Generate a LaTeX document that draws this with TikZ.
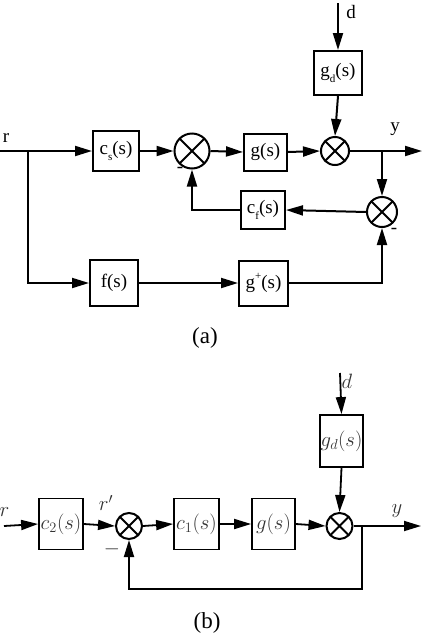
\documentclass[tikz,border=0pt]{standalone}
\usepackage{fontspec}
\setmainfont{Liberation Serif}
\usetikzlibrary{arrows.meta,calc}
\begin{document}
\begin{tikzpicture}[x=1pt,y=-1pt,
  ablk/.style={draw,line width=2pt,inner sep=0pt,font=\fontsize{19}{22}\selectfont},
  bblk/.style={draw,line width=1.8pt,inner sep=0pt,font=\fontsize{19.5}{22}\selectfont,text=black!80},
  sumnode/.style={draw,circle,line width=2pt,inner sep=0pt,minimum size=#1,
    path picture={\draw[line width=2pt] (path picture bounding box.north west)--(path picture bounding box.south east) (path picture bounding box.north east)--(path picture bounding box.south west);}},
  ar/.style={-{Triangle[length=17pt,width=10pt]},line width=2pt},
  br/.style={-{Triangle[length=17pt,width=10pt]},line width=1.8pt},
  lbl/.style={font=\fontsize{19}{22}\selectfont,inner sep=0pt},
  mlbl/.style={font=\fontsize{19.5}{22}\selectfont,inner sep=0pt,text=black!80},
  captionlbl/.style={font=\fontsize{23}{26}\selectfont,inner sep=0pt}
]
\useasboundingbox (0,0) rectangle (424,638);

% ---------------- (a) ----------------
\node[ablk,minimum width=46pt,minimum height=40pt] (cs) at (116,151) {c\raisebox{-0.35em}{\fontsize{11}{11}\selectfont s}(s)};
\node[sumnode=35pt] (s1) at (192,151) {};
\node[ablk,minimum width=43pt,minimum height=37pt] (g) at (265.5,152) {g(s)};
\node[sumnode=28pt] (s2) at (335,151) {};
\node[ablk,minimum width=48pt,minimum height=44pt] (gd) at (338,73) {g\raisebox{-0.35em}{\fontsize{11}{11}\selectfont d}(s)};
\node[sumnode=30pt] (s3) at (382,212) {};
\node[ablk,minimum width=44pt,minimum height=38pt] (cf) at (263,210) {c\raisebox{-0.35em}{\fontsize{11}{11}\selectfont f}(s)};
\node[ablk,minimum width=48pt,minimum height=46pt] (f) at (114,283) {f(s)};
\node[ablk,minimum width=49pt,minimum height=45pt] (gp) at (263.5,283) {g\raisebox{0.45em}{\fontsize{11}{11}\selectfont +}(s)};

\coordinate (rin) at (0,151);
\coordinate (bra) at (28,151);
\coordinate (dtop) at (338,3);
\coordinate (yout) at (422,151);
\coordinate (bry) at (382,151);

\node[lbl] (rl) at (6,138) {r};
\node[lbl] (dl) at (351,12) {d};
\node[lbl] (yl) at (395,129) {y};
\node[lbl] (m1) at (180,170) {-};
\node[lbl] (m3) at (394,231) {-};

\draw[ar] (rin) -- (cs.west);
\draw[ar] (bra) |- (f.west);
\draw[ar] (cs.east) -- (s1.west);
\draw[ar] (s1.east) -- (g.west);
\draw[ar] (g.east) -- (s2.west);
\draw[ar] (dtop) -- (gd.north);
\draw[ar] (gd.south) -- (s2.north);
\draw[ar] (s2.east) -- (yout);
\draw[ar] (bry) -- (s3.north);
\draw[ar] (s3.west) -- (cf.east);
\draw[ar] (cf.west) -| (s1.south);
\draw[ar] (f.east) -- (gp.west);
\draw[ar] (gp.east) -| (s3.south);

\node[captionlbl] (capa) at (205,338) {(a)};

% ---------------- (b) ----------------
\node[bblk,minimum width=44pt,minimum height=51pt] (c2) at (61,524) {$c_2(s)$};
\node[sumnode=26pt] (t1) at (129,526) {};
\node[bblk,minimum width=45pt,minimum height=51pt] (c1) at (196.5,524) {$c_1(s)$};
\node[bblk,minimum width=43pt,minimum height=51pt] (gb) at (273.5,524) {$g(s)$};
\node[sumnode=26pt] (t2) at (339.5,526) {};
\node[bblk,minimum width=43pt,minimum height=52pt] (gdb) at (341.5,441) {$g_d(s)$};

\coordinate (rinb) at (4,526);
\coordinate (dtopb) at (340,373);
\coordinate (youtb) at (421,526);
\coordinate (bryb) at (362,526);
\coordinate (botb) at (362,589);

\node[mlbl] (rlb) at (4.5,512) {$r$};
\node[mlbl] (rpl) at (106,503) {$r'$};
\node[mlbl] (mlb) at (112,549) {$-$};
\node[mlbl] (dlb) at (347,381) {$d$};
\node[mlbl] (ylb) at (397,511) {$y$};

\draw[br] (rinb) -- (c2.west);
\draw[br] (c2.east) -- (t1.west);
\draw[br] (t1.east) -- (c1.west);
\draw[br] (c1.east) -- (gb.west);
\draw[br] (gb.east) -- (t2.west);
\draw[br] (dtopb) -- (gdb.north);
\draw[br] (gdb.south) -- (t2.north);
\draw[br] (t2.east) -- (youtb);
\draw[br] (bryb) -- (botb) -| (t1.south);

\node[captionlbl] (capb) at (207,623) {(b)};
\end{tikzpicture}
\end{document}
